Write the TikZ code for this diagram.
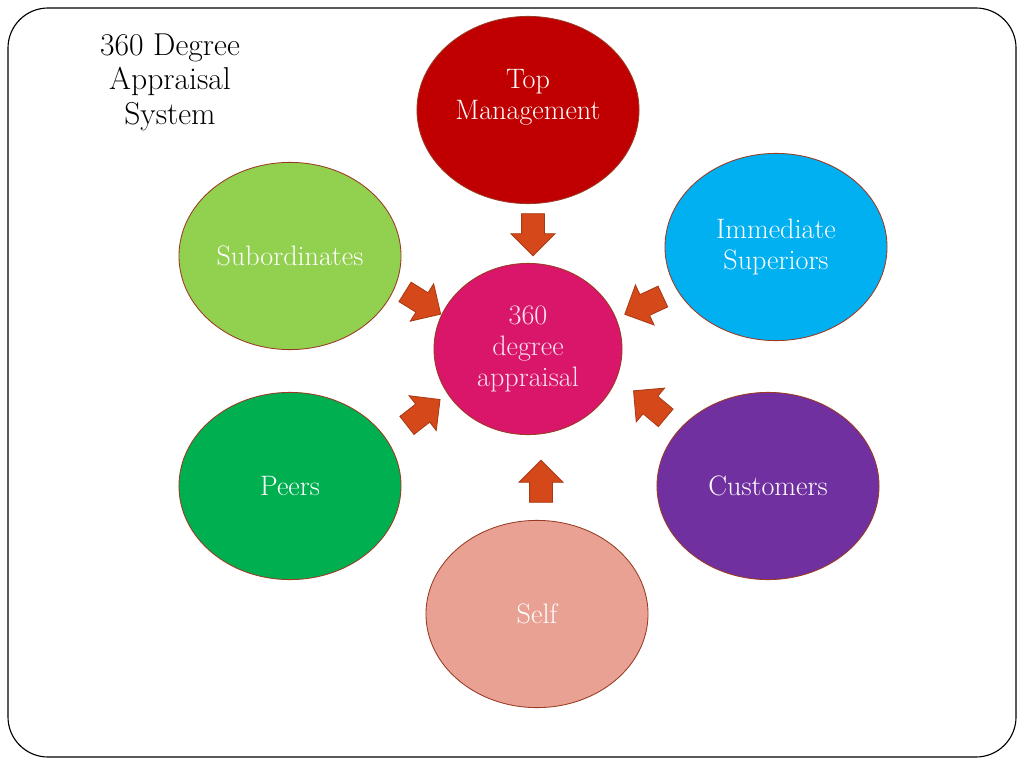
\documentclass[tikz,border=0pt]{standalone}
\usepackage{tikz}
\usetikzlibrary{shapes.geometric}
\usetikzlibrary{shapes.arrows}
\usetikzlibrary{positioning}

\definecolor{topred}{HTML}{C00000}
\definecolor{skyblue}{HTML}{00B0F0}
\definecolor{violet}{HTML}{7030A0}
\definecolor{salmon}{HTML}{E8A193}
\definecolor{leafgreen}{HTML}{00B050}
\definecolor{limegreen}{HTML}{92D050}
\definecolor{magenta}{HTML}{D9166A}
\definecolor{rimline}{HTML}{9A3A22}
\definecolor{pushfill}{HTML}{D4481A}
\definecolor{pushline}{HTML}{A83A14}
\definecolor{paletext}{HTML}{FBE3EF}

\begin{document}
\begin{tikzpicture}[x=0.025cm, y=-0.025cm, font=\fontsize{20}{22}\selectfont]
		\tikzstyle{bubble}=[ellipse, draw=rimline, line width=0.6pt, minimum width=5.55cm, minimum height=4.68cm, inner sep=0pt, text=white, align=center]
		\tikzstyle{hub}=[bubble, minimum width=4.7cm, minimum height=4.28cm, text=paletext]
		\tikzstyle{push}=[single arrow, draw=pushline, fill=pushfill, line width=0.6pt, inner xsep=0pt, inner ysep=0.275cm, minimum height=1.05cm, single arrow head extend=0.265cm]

		% frame and title
		\useasboundingbox (0,0) rectangle (1024,768);
		\draw[black, line width=0.8pt, rounded corners=1cm] (8,8) rectangle (1016,757);
		\node[align=center, font=\fontsize{22.5}{24.5}\selectfont] (title) at (170,82) {360 Degree\\Appraisal\\System};

		% sources
		\node[bubble, fill=topred, text depth=0.8cm] (top) at (528,110) {Top\\Management};
		\node[bubble, fill=skyblue] (sup) at (776,247) {Immediate\\Superiors};
		\node[bubble, fill=violet] (cust) at (768,486) {Customers};
		\node[bubble, fill=salmon] (self) at (537,614) {Self};
		\node[bubble, fill=leafgreen] (peers) at (290,486) {Peers};
		\node[bubble, fill=limegreen] (sub) at (290,256) {Subordinates};

		% centre
		\node[hub, fill=magenta] (hub) at (528,349) {360\\degree\\appraisal};

		% block arrows
		\node[push, rotate=-90] (a-top) at (533,229) {};
		\node[push, rotate=90] (a-self) at (541,487) {};
		\node[push, rotate=-32] (a-sub) at (418,300) {};
		\node[push, rotate=38] (a-peers) at (419,416) {};
		\node[push, rotate=205] (a-sup) at (649,303) {};
		\node[push, rotate=140] (a-cust) at (654,408) {};
	\end{tikzpicture}
\end{document}
